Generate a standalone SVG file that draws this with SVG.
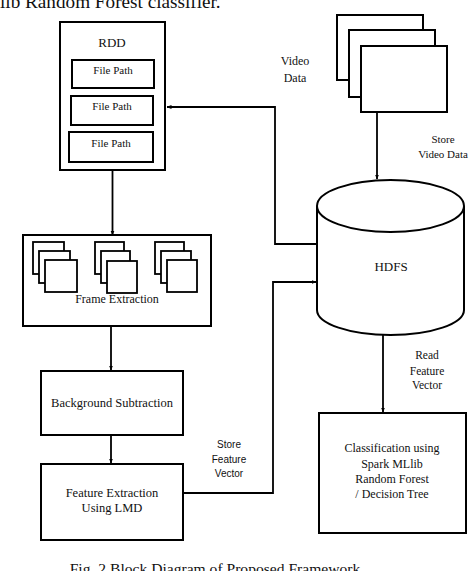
<svg xmlns="http://www.w3.org/2000/svg" width="474" height="571" viewBox="0 0 474 571">
<style>
.box{fill:#fff;stroke:#000;stroke-width:2}
.thin{fill:#fff;stroke:#000;stroke-width:1.8}
.ln{fill:none;stroke:#000;stroke-width:1.8}
.t{font-family:"Liberation Serif","Times New Roman",serif;fill:#111;text-anchor:middle}
.s{font-family:"Liberation Sans",Arial,sans-serif;fill:#111;text-anchor:middle}
</style>
<defs>
<marker id="ah" viewBox="0 0 10 10" refX="9" refY="5" markerWidth="5" markerHeight="5" orient="auto" markerUnits="userSpaceOnUse">
<path d="M0,1 L10,5 L0,9 Z" fill="#000"/>
</marker>
</defs>
<rect width="474" height="571" fill="#fff"/>
<text x="0" y="8" font-family="Liberation Serif,serif" font-size="19.2" fill="#111">lib Random Forest classifier.</text>

<g id="rdd">
<rect class="box" x="60" y="22" width="105" height="148"/>
<text class="t" x="112" y="47" font-size="13">RDD</text>
<rect class="box" x="72" y="60" width="82" height="28"/>
<text class="t" x="113" y="74" font-size="11">File Path</text>
<rect class="box" x="71" y="96" width="82" height="29"/>
<text class="t" x="112" y="110" font-size="11">File Path</text>
<rect class="box" x="69" y="132" width="84" height="30"/>
<text class="t" x="111" y="147" font-size="11">File Path</text>
</g>

<g id="frame">
<rect class="box" x="23" y="235" width="188" height="91"/>
<rect class="thin" x="33" y="242" width="31" height="32"/>
<rect class="thin" x="39" y="251" width="31" height="32"/>
<rect class="thin" x="45" y="260" width="32" height="32"/>
<rect class="thin" x="95" y="242" width="29" height="32"/>
<rect class="thin" x="101" y="251" width="29" height="32"/>
<rect class="thin" x="107" y="261" width="30" height="32"/>
<rect class="thin" x="155" y="242" width="29" height="32"/>
<rect class="thin" x="161" y="251" width="30" height="32"/>
<rect class="thin" x="167" y="260" width="30" height="32"/>
<text class="t" x="117" y="303" font-size="12">Frame Extraction</text>
</g>

<g id="bgsub">
<rect class="box" x="41" y="371" width="142" height="64"/>
<text class="t" x="112" y="407" font-size="12.5">Background Subtraction</text>
</g>

<g id="feature">
<rect class="box" x="41" y="464" width="142" height="76"/>
<text class="t" x="112" y="497" font-size="12.5">Feature Extraction</text>
<text class="t" x="112" y="512" font-size="12.5">Using LMD</text>
</g>

<g id="video">
<rect class="box" x="337" y="15" width="86" height="65"/>
<rect class="box" x="349" y="30" width="86" height="67"/>
<rect class="box" x="361" y="46" width="86" height="66"/>
</g>

<g id="hdfs">
<path class="box" d="M317,206 V310 A73.5,25 0 0 0 464,310 V206"/>
<ellipse class="box" cx="390.5" cy="206" rx="73.5" ry="26"/>
<text class="t" x="391" y="271" font-size="13">HDFS</text>
</g>

<g id="classify">
<rect class="box" x="319" y="413" width="147" height="120"/>
<text class="t" x="392" y="452" font-size="12">Classification using</text>
<text class="t" x="392" y="468" font-size="12">Spark MLlib</text>
<text class="t" x="392" y="483" font-size="12">Random Forest</text>
<text class="t" x="392" y="498" font-size="12">/ Decision Tree</text>
</g>

<g id="connectors">
<path class="ln" d="M317,244 H275 V107 H167" marker-end="url(#ah)"/>
<path class="ln" d="M112.5,170 V235" marker-end="url(#ah)"/>
<path class="ln" d="M111,326 V370" marker-end="url(#ah)"/>
<path class="ln" d="M111,435 V463" marker-end="url(#ah)"/>
<path class="ln" d="M183,493 H273 V282 H316" marker-end="url(#ah)"/>
<path class="ln" d="M377,112 V179" marker-end="url(#ah)"/>
<path class="ln" d="M383,335 V412" marker-end="url(#ah)"/>
</g>

<g id="labels">
<text class="t" x="295" y="65" font-size="12">Video</text>
<text class="t" x="295" y="82" font-size="12">Data</text>
<text class="t" x="443" y="143" font-size="11">Store</text>
<text class="t" x="443" y="158" font-size="11">Video Data</text>
<text class="t" x="427" y="359" font-size="11.5">Read</text>
<text class="t" x="427" y="375" font-size="11.5">Feature</text>
<text class="t" x="427" y="389" font-size="11.5">Vector</text>
<text class="s" x="229" y="448" font-size="10">Store</text>
<text class="s" x="229" y="463" font-size="10">Feature</text>
<text class="s" x="229" y="477" font-size="10">Vector</text>
</g>

<text class="t" x="215" y="574" font-size="15.6">Fig. 2 Block Diagram of Proposed Framework</text>
</svg>
